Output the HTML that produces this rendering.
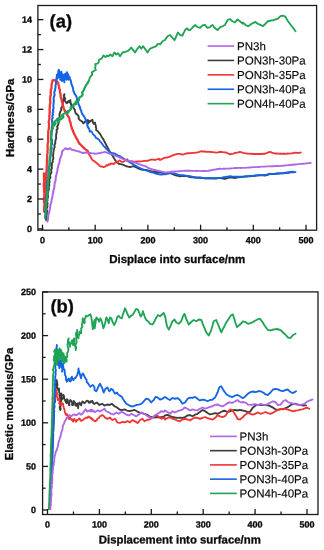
<!DOCTYPE html><html><head><meta charset="utf-8"><title>Nanoindentation curves</title>
<style>html,body{margin:0;padding:0;background:#fff}svg{display:block}text{font-family:"Liberation Sans",Arial,sans-serif;fill:#0a0a0a;stroke:#0a0a0a;stroke-width:0.15px}.b{font-weight:bold;stroke:#0a0a0a;stroke-width:0.3px}</style></head><body>
<svg width="324" height="550" viewBox="0 0 324 550">
<rect width="324" height="550" fill="#fff"/>
<polyline points="46,220 46.24,218.51 46.48,217.02 46.65,215.52 46.91,214.03 46.82,212.52 47.12,211.03 46.35,209.46 46.9,208 47.5,206.53 47.24,205.01 47.7,203.54 47.05,201.97 47.54,200.5 47.45,198.98 47.88,197.5 48.04,196.01 47.62,194.46 47.95,192.97 48.15,191.48 48.71,190.02 48.97,188.47 48.58,186.83 49.42,185.35 48.97,183.7 49.66,182.2 49.38,180.58 49.46,179 50.53,177.55 50.09,175.9 50.3,174.34 51.27,172.88 51.37,171.3 51,169.66 51.87,168.19 51.66,166.57 51.92,165.01 51.77,163.44 52.72,162.03 52.7,160.48 53.2,159.01 53.36,157.48 52.99,155.88 53.28,154.37 53.32,152.83 53.53,151.31 53.67,149.78 54.23,148.32 54.7,146.68 54.38,144.92 55.31,143.36 55.24,141.64 55.58,139.98 56.19,138.37 56.05,136.67 56.09,134.98 56.45,133.33 56.77,131.68 56.54,129.92 57.75,128.42 57.12,126.58 58.14,125.05 58.53,123.4 58.26,121.63 59.14,120.06 59.08,118.31 59.65,116.69 59.45,114.9 59.84,113.24 60.33,111.6 61.22,110.05 61.12,108.26 62.08,106.73 62.67,105.1 62.88,103.38 62.79,101.78 63.08,100.25 63.52,98.75 64.05,97.27 63.67,95.63 64.45,94.19 64.2,95.7 64.31,97.21 65.29,98.62 64.56,100.22 65.37,101.65 66.89,103.27 67.72,101.7 68.65,100.98 69.4,102.46 70.37,100.07 70.4,101.67 70.91,103.3 71.09,104.98 72.42,105.69 73.69,108.24 74.81,109.9 75.16,111.74 75.77,113.42 77.52,114.8 78.68,116.53 78.63,118.5 79.65,120.01 81.02,120.79 82.44,121.89 83.47,123.36 84.8,121.76 86,121.65 87.3,119.98 88.63,120.65" fill="none" stroke="#3c3c3c" stroke-width="1.9" stroke-linejoin="round" stroke-linecap="round"/>
<polyline points="88.63,120.65 87.61,122.16 87.72,123.83 88.75,122.5 90.12,121.37 92.42,119.83 92.91,121.95 93.54,123.82 95.05,122.55 94.97,124.05 95.89,125.44 95.81,126.99 96.35,128.44 96.08,130.03 97.65,131.1 98.78,132.47 99.96,133.79 100.87,135.36 101.78,136.93 102.82,138.43 103.75,140 104.45,141.52 105.25,143 106.04,144.48 106.77,145.99 107.54,147.48 108.46,149.05 109.27,150.69 110.22,152.24 111.24,153.76 112.19,155.31 113.16,156.86 114.15,158.39 115.02,159.99 116.2,161.3 117.44,162.56 118.76,163.74 120.61,164.19 122.49,164.53 124.36,165.42 126.24,166.27 128.11,166.69 130,166.98 131.88,166.67 133.74,166.22 135.63,167.12 137.49,168.03 139.36,168.79 141.26,169.48 142.91,169.77 144.58,169.87 146.25,170.01 147.95,170.3 149.58,170.84 151.26,171.22 152.91,171.54 154.58,171.74 156.24,172.04 157.91,172.2 159.58,172.4 161.25,172.48 163.11,173.16 164.99,173.78 166.68,173.58 168.33,173.21 170.01,173.04 171.63,173.75 173.32,174.38 174.98,175.05 176.64,175.52 178.33,175.84 180,176.25 181.66,176 183.34,176 185.01,175.8 186.67,176.16 188.32,176.63 189.99,177.03 191.66,177.22 193.34,177.25 195,177.53 196.67,177.52 198.33,177.54 200,177.49 201.66,177.78 203.32,178.07 205,178.27 206.67,178.3 208.33,178.14 210,178.21 211.67,178.24 213.33,178.29 215,178.22 216.67,178.21 218.33,178.11 220,177.95 221.67,178.33 223.35,178.6 225.01,178.95 226.64,178.42 228.32,177.96 229.99,177.46 231.67,177.59 233.34,177.72 235,178 236.66,177.64 238.34,177.36 240,177.01 241.66,176.81 243.34,176.85 244.99,176.51 246.66,176.48 248.33,176.32 250,176.24 251.66,175.99 253.34,176 255,175.72 256.66,175.47 258.34,175.44 260,175.2 261.67,175.34 263.34,175.38 265,175.51 266.7,175.11 268.36,174.57 270,173.99 271.67,173.99 273.34,173.87 275,173.73 276.66,173.54 278.34,173.52 280,173.39 281.67,173.36 283.34,173.24 285,173.01 286.75,172.81 288.51,172.79 290.24,172.43 291.99,172.31 293.75,172.26" fill="none" stroke="#3c3c3c" stroke-width="1.85" stroke-linejoin="round" stroke-linecap="round"/>
<polyline points="43.83,173.33 44.01,174.88 44.12,176.42 43.97,177.97 44.13,179.52 44.21,181.07 44.03,182.62 43.75,184.17 43.84,185.72 43.89,187.26 44.24,188.81 44.08,190.36 44.26,191.9 44.34,193.45 44.29,195 44.36,196.51 43.94,198.03 44.02,199.55 44.04,201.06 44.06,202.58 44.44,204.09 44.39,205.61 44.21,207.12 44.16,208.64 44.1,210.16 44.22,211.67 44.19,209.99 44.62,208.34 44.77,206.68 44.78,205 44.7,203.32 44.99,201.67 44.85,199.99 45.45,198.35 45.51,196.68 45.41,195 45.36,193.33 45.82,191.68 45.69,190 45.97,188.45 46.02,186.88 45.89,185.31 45.91,183.75 46.09,182.19 46.06,180.62 45.97,179.05 46.13,177.49 46.51,175.95 46.12,174.36 46.2,172.8 46.62,171.25 46.48,169.68 46.71,168.13 46.74,166.56 46.78,165 47.2,163.5 46.8,161.96 47.01,160.45 46.96,158.93 47.29,157.43 47.15,155.9 47.28,154.39 47.59,152.88 47.41,151.36 47.63,149.85 47.79,148.34 47.53,146.65 47.61,144.98 47.81,143.32 48.23,141.68 48.2,140 48.07,138.33 48.18,136.66 48.14,134.99 48.37,133.33 48.17,131.66 48.56,130 48.83,128.48 48.95,126.94 48.91,125.39 49.14,123.86 48.66,122.29 48.91,120.76 49.41,119.25 49.38,117.7 49.26,116.15 49.67,114.63 49.56,113.08 49.77,111.55 49.61,110 49.59,108.45 49.84,106.92 49.76,105.37 50.01,103.84 50.46,102.33 50.18,100.76 50.09,99.21 50.22,97.67 50.39,96.14 50.86,94.63 50.71,93.07 50.77,91.53 50.88,89.99 51.54,88.38 51.45,86.66 51.58,84.97 51.87,83.31 52.54,80.47 53.98,80.07 55.32,80.38 56.73,81.25 58.28,83.25 58.56,85 59.09,86.63 59.18,88.36 59.89,89.95 59.98,91.67 60.25,93.35 60.68,94.99 60.63,96.72 61.22,98.33 61.58,99.99 61.94,101.77 62.55,103.49 62.69,105.32 63.43,106.77 63.7,108.42 64.36,109.91 65.17,111.33 66.25,112.69 66.97,114.26 67.74,115.79 68.65,116.98 69.4,118.29 69.56,120.33 70.43,122.18 70.8,124.14 70.93,125.71 71.63,127.1 71.89,128.64 72.7,129.99 73.12,131.6 73.92,133.04 74.51,134.57 75.27,136.03 76,137.5 76.94,138.9 77.74,140.37 78.4,141.93 79.28,143.36 80.49,144.67 81.86,145.8 83.05,147.11 84.3,148.36 85.97,149.61 87.64,150.87 88.2,152.29" fill="none" stroke="#F03535" stroke-width="2.3" stroke-linejoin="round" stroke-linecap="round"/>
<polyline points="88.2,152.29 88.73,153.76 89.64,155.34 90.68,156.84 91.45,158.5 92.44,160.04 93.82,160.73 94.92,161.78 96.21,162.56 97.46,163.79 98.85,164.9 99.96,166.29 101.9,166.52 103.74,167.07 105.01,166.62 106.46,165.15 107.53,165.76 108.72,164.11 110,164.81 111.03,163.42 112.4,163.56 113.52,164.16 114.95,162.55 116.12,162.36 117.53,162.93 118.55,161.03 119.78,160.35 121.47,161.84 123.5,161.74 125.04,160.54 127.2,159.21 128.46,160.84 129.73,161.66 131.51,161.22 133.41,161.68 135.46,161.72 137.5,161.54 139.17,161.41 140.83,161.34 142.5,161.18 144.15,160.94 145.84,160.94 147.5,160.75 149.41,160.23 151.26,159.52 153.14,159.64 155,159.98 156.9,159.45 158.75,158.75 160.05,159.95 161.92,159.09 163.77,158.04 165.61,157.63 167.5,157.51 169.15,156.8 170.87,156.25 172.49,155.47 174.14,154.84 175.83,154.33 177.52,153.82 179.18,153.88 180.85,154.14 182.5,154.52 184.19,154.2 185.83,153.67 187.5,153.24 189.17,153.27 190.84,153.17 192.5,152.94 194.18,152.95 195.82,152.58 197.5,152.47 199.41,151.97 201.25,151.24 202.91,151.51 204.59,151.48 206.24,151.81 207.92,151.74 209.59,151.81 211.25,152 212.92,152.12 214.58,152.35 216.24,152.56 217.92,152.4 219.57,152.02 221.25,151.97 222.92,152.18 224.58,152.33 226.25,152.53 228.13,153.5 230.03,154.44 231.64,153.93 233.36,153.6 234.99,152.98 236.69,152.66 238.37,152.31 240,151.77 241.65,152.3 243.32,152.78 245.01,153.22 246.65,153.54 248.33,153.57 249.99,153.81 251.67,153.78 253.33,154.03 255,154.04 256.67,154.03 258.33,153.98 260,153.95 261.67,154 263.33,153.79 265,153.77 266.63,153.06 268.29,152.47 269.98,151.95 271.85,152.71 273.77,153.2 275.3,153.5 276.88,153.46 278.44,153.65 280,153.73 281.56,153.79 283.12,153.63 284.69,153.72 286.25,153.82 287.8,153.53 289.38,153.55 290.93,153.32 292.5,153.22 294.15,152.94 295.82,152.77 297.51,152.82 299.13,152.72 300.75,152.55" fill="none" stroke="#F03535" stroke-width="1.85" stroke-linejoin="round" stroke-linecap="round"/>
<polyline points="45.17,216.67 45.73,215.19 45.83,213.67 45.04,212.09 45.18,210.58 46.03,209.12 46.04,207.59 46.08,206.07 45.82,204.53 46.22,203.04 46.33,201.52 46.37,200 46.1,198.45 46.48,196.94 46.56,195.41 47,193.91 47.38,192.4 47.45,190.87 47.16,189.31 47.17,187.78 47.1,186.24 46.98,184.69 47.09,183.16 47.65,181.67 47.65,180.09 47.86,178.53 48.53,177.02 48.32,175.42 48.51,173.86 48.34,172.27 48.29,170.69 48.75,169.15 48.71,167.57 49.24,166.05 49.88,164.53 49.72,162.94 49.38,161.33 50.25,159.83 50.31,158.26 50.29,156.68 50.76,155.2 50.79,153.67 51,152.16 50.75,150.59 51.56,149.15 51.72,147.63 51.11,146.02 51.88,144.58 52.02,143.06 51.95,141.51 52.19,140 51,140 51.53,138.36 51.21,136.67 51.64,135.02 51.27,133.33 51.9,131.69 52.02,130.03 51.69,128.33 51.86,126.67 52.36,125.18 52.27,123.65 52.14,122.12 51.98,120.59 52.19,119.08 52.67,117.59 52.24,116.04 53.09,114.57 52.56,113.01 53.3,111.54 52.91,109.99 53.58,108.52 53.45,106.99 53.37,105.45 53.5,103.94 53.76,102.43 53.81,100.91 53.66,99.38 53.68,97.85 54.1,96.36 54.64,94.88 54.39,93.33 54.33,91.75 55.02,90.28 55.22,88.72 55.58,87.2 55.41,85.59 55.99,84.1 55.84,82.49 56.4,81 56.37,79.43 56.49,77.88 57.03,76.38 56.84,74.8 57.26,76.67 57.48,78.54 57.58,76.81 57.72,75.11 58.27,73.45 58.18,71.73 58.87,69.9 59.22,71.71 59.14,73.57 59.38,75.42 59.26,77.28 59.22,75.61 59.91,74.02 59.66,72.34 59.82,74.21 60.4,76.03 60.41,77.89 60.33,79.76 60.37,78.03 60.54,76.34 61,74.67 61.01,72.96 61.4,71.68 61.32,73.29 61.9,74.81 62.05,76.35 61.95,77.9 61.87,79.45 61.95,80.99 61.91,79.28 62.17,77.59 62.11,75.88 62.5,74.2 62.52,75.76 62.69,77.3 62.74,78.85 63.06,80.38 63.56,78.75 63.67,77.09 63.74,75.43 64.04,77.12 63.9,78.83 64.23,80.51 64.37,82.21 64.32,80.61 64.67,79.03 64.32,77.39 64.69,75.81 64.71,74.2 65.04,76.36 65.47,78.5 65.84,76.91 65.63,75.21 66.01,73.58 66.18,75.12 66.57,76.64 66.4,78.21 66.7,79.74 66.45,77.88 66.56,76.03 66.76,74.19 66.97,72.34 67.16,73.9 67.39,75.44 67.26,77.01 67.57,78.53 68.24,76.39 68.12,74.19 68.4,76.05 68.68,77.89 68.66,79.75 69.07,78.22 69.4,76.69 69.87,78.54 70.78,80.61 71.2,82.83 71.63,84.7 72.39,86.48 73.09,88.27 73.22,90.22 73.82,92.05 74.77,94.01 75.84,95.38 76.53,96.95 77.15,99.13 77.46,101.33 78.21,102.69 78.55,104.25 79.21,105.67 79.98,107.26 80.29,109.02 81.17,110.57 81.6,112.65 82.68,114.42 83.9,116.23 85.2,118.31 85.66,120 86.09,121.69 87.1,123.21 87.25,124.98 87.66,126.67 88.68,128.21" fill="none" stroke="#1464E6" stroke-width="2.0" stroke-linejoin="round" stroke-linecap="round"/>
<polyline points="88.68,128.21 89.48,129.84 89.69,131.73 91.23,131.19 92.17,132.51 92.79,134 93.97,135.07 95.08,136.19 95.91,137.84 97.59,138.66 99.09,139.66 99.98,141.27 101.07,142.44 102.04,143.72 102.94,145.05 103.97,146.28 105.05,147.46 106.26,148.74 107.52,149.98 108.75,151.25 110.02,152.48 111.66,152.94 113.36,153.23 115.01,153.72 116.68,154.56 118.29,155.51 120.02,156.2 121.63,157.38 123.37,158.35 125,159.51 126.68,160.48 128.34,161.49 129.98,162.53 131.68,163.48 133.38,164.42 135.02,165.46 136.71,166.24 138.3,167.24 139.99,168.02 141.63,168.77 143.32,169.38 145.02,169.95 146.65,170.62 148.31,171.23 149.99,171.78 151.67,172.25 153.34,172.72 155,173.25 156.65,173.74 158.35,174.03 160,174.5 160,174.5 161.67,174.53 163.34,174.41 165,174.3 166.69,173.91 168.32,173.37 169.99,172.97 171.67,173.25 173.34,173.44 175,173.74 176.66,174.21 178.31,174.68 180,175.01 181.66,175.24 183.34,175.24 185,175.48 186.65,175.87 188.35,175.92 190,176.24 191.69,176.57 193.36,176.99 194.99,177.55 196.65,177.78 198.33,177.87 200,177.96 201.67,178.03 203.34,178.1 205,178.27 206.67,178.29 208.33,178.24 210,178.25 211.67,178.24 213.33,178.43 215,178.55 216.67,178.39 218.32,178.07 220,178 221.68,177.72 223.32,177.28 225.01,177.05 226.67,176.74 228.34,176.55 230,176.24 231.65,176.53 233.33,176.65 235,176.76 236.67,176.66 238.33,176.74 240,176.69 241.67,176.65 243.34,176.59 244.99,176.3 246.67,176.25 248.33,176.12 250,175.99 251.67,175.88 253.34,175.77 255,175.55 256.67,175.33 258.34,175.28 260,174.98 261.67,175.06 263.33,175.04 265,175.03 266.69,174.67 268.32,174.1 270,173.76 271.67,173.81 273.33,173.96 275,174.06 276.67,173.82 278.32,173.47 280,173.37 281.67,173.22 283.34,173.05 285,172.77 286.51,172.63 287.98,172.24 289.51,172.26 291.01,172 292.5,171.76 293.99,171.97 295.5,172.05" fill="none" stroke="#1464E6" stroke-width="1.85" stroke-linejoin="round" stroke-linecap="round"/>
<polyline points="45.17,218.33 45.11,216.78 45.46,215.26 45.46,213.71 45.75,212.18 45.9,210.64 45.63,209.07 45.72,207.53 46.43,206.04 46.15,204.47 46.26,202.93 46.92,201.44 46.68,199.87 46.95,198.34 46.93,196.78 47.17,195.24 46.94,193.67 47.4,192.15 47.68,190.61 47.56,189.05 47.83,187.51 47.9,185.96 47.6,184.38 48.2,182.87 48.21,181.32 48.12,179.75 48.05,178.19 48.63,176.68 48.61,175.13 48.91,173.61 49.15,172.08 49.16,170.53 49.44,169 49.2,167.43 49.61,165.92 49.49,164.36 49.96,162.85 50.05,161.31 49.63,159.72 49.79,158.19 50.07,156.66 50.6,155.18 50.34,153.64 50.57,152.13 50.45,150.6 50.7,149.09 50.72,147.57 50.8,146.05 51.04,144.55 51.14,143.03 51.35,141.52 51.36,140 50.81,138.27 51.08,136.69 51.15,135.01 51.22,133.34 51.23,131.66 51.61,130.01 53.05,128.47 52.43,126.73 52.45,125.05 52.98,123.41 53.91,125.69 54.88,124.41 54.44,122.53 55.46,124.03 54.3,121.83 56.52,120.1 57.49,118.66 58.6,120.08 57.57,122.62 59.26,121.56 58.73,119.74 59.87,118.25 60.71,119.45 62.7,117.91 61.69,115.58 63.4,116.81 62.78,114.42 64.98,113.1 66.06,113.08 67.83,111.1 67.91,112.91 69.1,110.84 70.38,109.42 71,108.88 70.52,107.21 72.47,106.39 73.7,105.99 73.24,104.84 74.54,103.62 75.94,104.33 75.71,102.12 76.69,100.58 78.82,100.45 79.42,97.38 81.54,96.26 82.77,94.61 82.16,92.43 83.45,90.8 84.14,89.18 84.87,87.57 86.13,85.07 87.4,83.39 88.26,81.78" fill="none" stroke="#1FA354" stroke-width="2.2" stroke-linejoin="round" stroke-linecap="round"/>
<polyline points="88.26,81.78 89.12,80.22 89.84,77.5 90.92,76.18 92.25,74.58 91.88,72.38 93.83,71.01 95.87,70 95.06,67.93 95.57,66.27 95.17,64.16 97.15,63.68 98.58,62.58 99.11,59.68 101.51,58.76 102.53,57.15 103.44,55.47 105.49,57.02 107.25,55.5 108.49,56.27 110.23,54.48 111.73,55.77 112.48,56.28 113.37,54.31 114.44,52.47 116.23,54.52 118.04,53.31 119.06,54.71 120.01,56.25 120.86,55.02 121.62,53.72 122.48,52.49 124.99,51.97 127.49,51.23 129.51,49.51 131.23,47.48 132.16,48.73 132.97,50.02 134.11,51.16 134.99,52.51 135.89,51.29 136.62,49.97 137.47,48.73 138.57,47.56 139.47,46.23 140.45,47.45 141.26,48.74 142.17,47.53 142.95,46.22 144.04,47.47 145.02,48.73 145.75,50.06 146.68,51.24 147.46,52.53 148.25,51.19 149.13,49.97 150.02,48.76 152.53,47.55 154.37,46.86 156.24,46.21 157.03,44.93 158,43.75 160.02,44.46 161.32,42.93 162.54,41.28 164.98,39.96 165.78,38.71 166.74,37.55 167.52,36.26 170.02,35.04 171.29,36.47 172.54,37.96 174.52,39.98 175.45,38.16 176.22,36.24 177.08,34.36 177.99,32.49 179.02,33.73 180.01,34.99 182.49,35.56 183.03,34.08 183.61,32.69 184.5,31.43 185.05,30.02 187.05,28.3 188.76,29.99 190,30.07 191.34,28.84 192.47,27.47 193.8,26.3 195.04,25.04 196.22,26.04 197.5,27 200.01,27.97 201.22,26.72 202.47,25.47 204.99,24.94 206.23,26.52 207.52,27.98 210.02,27.04 211.16,25.89 212.54,25.05 213.71,26.54 214.95,28.04 216.18,29.09 217.46,30.05 218.77,28.77 219.95,27.45 222.52,26.28 224.98,24.96 225.78,23.31 226.71,21.69 227.5,20 230,18.99 231.16,20.22 232.49,21.26 235.01,22.48 236.19,20.95 237.54,19.53 238.75,20.37 239.98,21.28 241.28,22.47 242.53,23.72 243,22.5 244.18,23.82 245.53,24.97 247.98,26.29 249.32,25.48 250.53,24.54 253.02,23.04 255.47,21.93 256.73,22.91 257.97,23.79 260.53,24.94 263.02,26.22 264.2,24.95 265.5,23.75 266.73,22.48 268,21.25 270.51,20.54 273,20.43 275.48,19.44 277.98,18.7 279.17,17.42 280.45,16.2 283.02,15.57 284.98,16.3 286.11,17.85 287,19.58 288.02,21.24 288.98,22.47 289.91,23.72 290.78,25.03 291.74,26.26 292.72,27.47 293.7,28.69 294.6,29.97 295.55,31.22" fill="none" stroke="#1FA354" stroke-width="1.85" stroke-linejoin="round" stroke-linecap="round"/>
<polyline points="47.33,221.67 47.79,220.2 48.09,218.71 48.17,217.17 48.33,215.64 48.46,214.11 49.13,212.69 49.3,211.17 49.76,209.7 49.81,208.16 50.25,206.69 50.39,204.97 51.06,203.37 51.38,201.7 51.55,199.99 51.98,198.34 52.42,196.69 52.58,194.98 52.98,193.52 53.41,192.07 53.37,190.53 53.96,189.11 54.17,187.61 54.54,186.15 54.52,184.61 54.65,183.11 55.26,181.69 55.63,180.22 55.69,178.7 55.76,177.18 56.1,175.71 56.64,174.27 56.71,172.75 57.38,171.34 57.44,169.82 57.58,168.31 58.18,166.69 58.42,164.98 59.17,163.39 59.58,161.72 59.76,160 60.21,158.34 60.78,156.87 61.34,155.39 61.94,153.92 61.9,152.24 62.63,150.82 63.96,149.62 65.13,148.29 67.66,149.2 70.13,148.21 71.29,149.35 72.67,150.01 74.39,150.19 75.99,150.88 77.69,151.14 79.35,151.58 81,152.33 82.69,152.96 84.32,152.68 86.01,152.54 87.99,152.8 90.01,152.94" fill="none" stroke="#AE66E4" stroke-width="2.0" stroke-linejoin="round" stroke-linecap="round"/>
<polyline points="90.01,152.94 91.66,153.32 93.35,153.39 95,153.73 96.68,153.6 98.34,153.28 100,152.98 101.66,152.64 103.33,152.31 104.99,151.96 106.63,152.7 108.37,153.07 110,153.74 111.65,154.39 113.34,154.89 114.98,155.55 116.69,156.11 118.29,156.94 119.98,157.54 121.65,158.37 123.29,159.25 125,159.99 126.65,160.49 128.32,160.9 130,161.25 131.67,161.66 133.32,162.13 135,162.49 136.7,163.07 138.31,163.89 140.01,164.47 141.67,165.08 143.31,165.73 145.01,166.21 146.72,166.98 148.37,167.84 150,168.76 151.67,169.13 153.35,169.53 155,169.99 156.64,170.52 158.35,170.78 160,171.24 160,171.25 161.66,171.69 163.35,172.03 165,172.5 166.67,172.33 168.32,172.08 170,171.99 171.66,171.79 173.34,171.74 175,171.48 176.67,171.37 178.34,171.28 180.01,171.05 181.67,170.89 183.33,170.86 185,170.73 186.67,170.73 188.33,170.75 190,170.79 191.66,170.94 193.34,170.87 195,170.94 196.67,170.99 198.33,170.89 200,170.94 201.67,171.07 203.33,170.91 205,171.03 206.66,170.8 208.34,170.77 210,170.54 211.65,170.06 213.32,169.76 215.01,169.55 216.67,169.28 218.33,168.98 220.01,168.78 221.67,168.83 223.33,168.75 225,168.75 226.66,168.57 228.33,168.55 230,168.46 231.67,168.36 233.34,168.19 235,167.96 236.67,168.03 238.33,167.9 240,167.95 241.67,167.95 243.33,167.82 245,167.85 246.67,167.7 248.34,167.63 250,167.46 251.67,167.45 253.33,167.15 255,167.15 256.67,167.1 258.34,166.97 260,166.8 261.67,166.66 263.34,166.63 265,166.57 266.66,166.33 268.34,166.44 270,166.3 271.67,166.19 273.34,166.23 275,166.11 276.67,166.03 278.33,166.09 280,165.95 281.67,165.91 283.34,165.78 284.99,165.45 286.68,165.44 288.32,165.07 290,165.04 291.66,164.78 293.34,164.78 295,164.48 296.68,164.43 298.32,164.05 300,163.95 301.54,163.93 303.07,163.75 304.61,163.58 306.13,163.32 307.67,163.21 309.21,163.11 310.75,162.95" fill="none" stroke="#AE66E4" stroke-width="1.85" stroke-linejoin="round" stroke-linecap="round"/>
<rect x="37.9" y="5.5" width="278.70000000000005" height="224.7" fill="none" stroke="#1a1a1a" stroke-width="1.3"/>
<line x1="42.5" y1="230.2" x2="42.5" y2="224.7" stroke="#1a1a1a" stroke-width="1.3"/>
<text class="b" x="42.5" y="243.3" transform="rotate(0.03 42.5 243.3)" font-size="9" text-anchor="middle">0</text>
<line x1="95.2" y1="230.2" x2="95.2" y2="224.7" stroke="#1a1a1a" stroke-width="1.3"/>
<text class="b" x="95.2" y="243.3" transform="rotate(0.03 95.2 243.3)" font-size="9" text-anchor="middle">100</text>
<line x1="147.9" y1="230.2" x2="147.9" y2="224.7" stroke="#1a1a1a" stroke-width="1.3"/>
<text class="b" x="147.9" y="243.3" transform="rotate(0.03 147.9 243.3)" font-size="9" text-anchor="middle">200</text>
<line x1="200.6" y1="230.2" x2="200.6" y2="224.7" stroke="#1a1a1a" stroke-width="1.3"/>
<text class="b" x="200.6" y="243.3" transform="rotate(0.03 200.6 243.3)" font-size="9" text-anchor="middle">300</text>
<line x1="253.3" y1="230.2" x2="253.3" y2="224.7" stroke="#1a1a1a" stroke-width="1.3"/>
<text class="b" x="253.3" y="243.3" transform="rotate(0.03 253.3 243.3)" font-size="9" text-anchor="middle">400</text>
<line x1="306.0" y1="230.2" x2="306.0" y2="224.7" stroke="#1a1a1a" stroke-width="1.3"/>
<text class="b" x="306.0" y="243.3" transform="rotate(0.03 306.0 243.3)" font-size="9" text-anchor="middle">500</text>
<line x1="68.85" y1="230.2" x2="68.85" y2="227.2" stroke="#1a1a1a" stroke-width="1.3"/>
<line x1="121.55" y1="230.2" x2="121.55" y2="227.2" stroke="#1a1a1a" stroke-width="1.3"/>
<line x1="174.25" y1="230.2" x2="174.25" y2="227.2" stroke="#1a1a1a" stroke-width="1.3"/>
<line x1="226.95" y1="230.2" x2="226.95" y2="227.2" stroke="#1a1a1a" stroke-width="1.3"/>
<line x1="279.65" y1="230.2" x2="279.65" y2="227.2" stroke="#1a1a1a" stroke-width="1.3"/>
<line x1="37.9" y1="228.9" x2="43.4" y2="228.9" stroke="#1a1a1a" stroke-width="1.3"/>
<text class="b" x="32" y="231.95" transform="rotate(0.03 32 231.95)" font-size="9" text-anchor="end">0</text>
<line x1="37.9" y1="199.01" x2="43.4" y2="199.01" stroke="#1a1a1a" stroke-width="1.3"/>
<text class="b" x="32" y="202.06" transform="rotate(0.03 32 202.06)" font-size="9" text-anchor="end">2</text>
<line x1="37.9" y1="169.12" x2="43.4" y2="169.12" stroke="#1a1a1a" stroke-width="1.3"/>
<text class="b" x="32" y="172.17" transform="rotate(0.03 32 172.17)" font-size="9" text-anchor="end">4</text>
<line x1="37.9" y1="139.23" x2="43.4" y2="139.23" stroke="#1a1a1a" stroke-width="1.3"/>
<text class="b" x="32" y="142.28" transform="rotate(0.03 32 142.28)" font-size="9" text-anchor="end">6</text>
<line x1="37.9" y1="109.34" x2="43.4" y2="109.34" stroke="#1a1a1a" stroke-width="1.3"/>
<text class="b" x="32" y="112.39" transform="rotate(0.03 32 112.39)" font-size="9" text-anchor="end">8</text>
<line x1="37.9" y1="79.45" x2="43.4" y2="79.45" stroke="#1a1a1a" stroke-width="1.3"/>
<text class="b" x="32" y="82.50" transform="rotate(0.03 32 82.50)" font-size="9" text-anchor="end">10</text>
<line x1="37.9" y1="49.56" x2="43.4" y2="49.56" stroke="#1a1a1a" stroke-width="1.3"/>
<text class="b" x="32" y="52.61" transform="rotate(0.03 32 52.61)" font-size="9" text-anchor="end">12</text>
<line x1="37.9" y1="19.67" x2="43.4" y2="19.67" stroke="#1a1a1a" stroke-width="1.3"/>
<text class="b" x="32" y="22.72" transform="rotate(0.03 32 22.72)" font-size="9" text-anchor="end">14</text>
<line x1="37.9" y1="213.96" x2="40.9" y2="213.96" stroke="#1a1a1a" stroke-width="1.3"/>
<line x1="37.9" y1="184.06" x2="40.9" y2="184.06" stroke="#1a1a1a" stroke-width="1.3"/>
<line x1="37.9" y1="154.18" x2="40.9" y2="154.18" stroke="#1a1a1a" stroke-width="1.3"/>
<line x1="37.9" y1="124.28" x2="40.9" y2="124.28" stroke="#1a1a1a" stroke-width="1.3"/>
<line x1="37.9" y1="94.4" x2="40.9" y2="94.4" stroke="#1a1a1a" stroke-width="1.3"/>
<line x1="37.9" y1="64.5" x2="40.9" y2="64.5" stroke="#1a1a1a" stroke-width="1.3"/>
<line x1="37.9" y1="34.62" x2="40.9" y2="34.62" stroke="#1a1a1a" stroke-width="1.3"/>
<text class="b" x="49.6" y="27.5" transform="rotate(0.03 49.6 27.5)" font-size="18.4">(a)</text>
<text class="b" x="177.2" y="263" transform="rotate(0.03 177.2 263)" font-size="11.5" text-anchor="middle">Displace into surface/nm</text>
<text class="b" transform="translate(13.7,117.8) rotate(-90)" font-size="11.5" text-anchor="middle">Hardness/GPa</text>
<line x1="207.6" y1="46.05" x2="234.1" y2="46.05" stroke="#AE66E4" stroke-width="1.6"/>
<text x="237.0" y="50.15" transform="rotate(0.03 237 50.15)" font-size="11.55">PN3h</text>
<line x1="207.6" y1="60.45" x2="234.1" y2="60.45" stroke="#3c3c3c" stroke-width="1.6"/>
<text x="237.0" y="64.55" transform="rotate(0.03 237 64.55)" font-size="11.55">PON3h-30Pa</text>
<line x1="207.6" y1="74.85" x2="234.1" y2="74.85" stroke="#F03535" stroke-width="1.6"/>
<text x="237.0" y="78.95" transform="rotate(0.03 237 78.95)" font-size="11.55">PON3h-35Pa</text>
<line x1="207.6" y1="89.25" x2="234.1" y2="89.25" stroke="#1464E6" stroke-width="1.6"/>
<text x="237.0" y="93.35" transform="rotate(0.03 237 93.35)" font-size="11.55">PON3h-40Pa</text>
<line x1="207.6" y1="103.65" x2="234.1" y2="103.65" stroke="#1FA354" stroke-width="1.6"/>
<text x="237.0" y="107.75" transform="rotate(0.03 237 107.75)" font-size="11.55">PON4h-40Pa</text>
<polyline points="49.83,509.17 49.9,507.59 49.96,506 49.97,504.41 50.28,502.84 50.1,501.24 50.33,499.67 50.54,498.09 50.38,496.49 50.6,494.91 50.69,493.33 50.61,491.78 50.79,490.25 50.96,488.72 50.96,487.18 51.12,485.64 51.03,484.09 51.13,482.56 51.17,481.02 51.36,479.48 51.57,477.95 51.54,476.41 51.68,474.87 51.65,473.33 51.8,471.82 51.67,470.3 51.79,468.78 51.96,467.27 52.04,465.76 52.01,464.24 51.97,462.72 52.08,461.21 52.13,459.69 52.21,458.18 52.43,456.67 52.31,455.15 52.57,453.64 52.63,452.12 52.44,450.6 52.6,449.09 52.7,447.57 52.62,446.05 52.8,444.54 53,443.03 52.82,441.51 53.01,440 52.94,438.47 53.14,436.95 53.29,435.42 53.13,433.89 53.13,432.36 53.21,430.83 53.4,429.31 53.3,427.77 53.38,426.25 53.56,424.72 53.74,423.2 53.66,421.67 53.71,420.12 53.85,418.58 53.76,417.02 53.98,415.48 53.93,413.93 54.13,412.38 54.31,410.84 53.62,409.26 54.39,407.74 54.53,406.2 53.97,404.62 54.2,403.08 55.29,401.58 55.02,400.02 54.24,398.46 55.16,397.02 55.6,395.54 54.7,393.98 55.33,392.51 54.63,390.96 55.18,389.49 55.71,388.02 55.7,386.51 55.86,385.01 55.32,383.26 55.9,381.64 56.58,380.03 56.95,381.69 57.23,383.33 57.47,384.99 56.82,386.74 57.56,388.34 58.17,389.97 58.86,388.42 59.07,389.97 59.09,391.66 59.57,393.29 59.41,394.99 59.62,396.66 60.18,398.3 59.53,400.01 60.37,401.63 59.52,403.36 60.68,404.96 59.73,406.69 59.8,408.36 60.33,410 60.7,408.5 60.13,406.95 60.89,405.47 60.53,403.93 60.34,402.4 61.44,400.94 60.73,399.38 60.76,397.87 61.52,396.39 60.91,394.84 61.29,393.34 61.9,395.21 61.25,397.29 62.17,399.15 62.61,398.11 63.9,396.83 63.45,394.94 64.22,396.81 64.11,398.45 64.91,400.03 65.67,401.61 66.44,403.19 66.18,401.17 66.92,399.15 67.77,400.06 67.47,401.77 68.59,403.3 68.92,404.96 69.5,405.04 69.28,403.25 69.48,401.57 70.37,400.01 71.07,400.93 72.18,402.8 72.03,404.99 72.83,405.14 73.61,402.99 73.59,400.81 74.31,401.86 75.36,403.22 75.18,405.04 76.04,405.97 77.25,403.41 77.28,405 78.11,406.57 78.14,408.28 78.29,406.26 78.45,404.12 79.58,402.54 80.61,404.91 81.17,405.2 81.82,402.44 82.59,401.43 84.19,403.2 85.31,402.47 86.7,400.86 87.83,400.75 89.2,402.89 90.33,402.49 91.88,401.57 92.82,401.69 89.96,401.69 92.41,400.93 92.96,402.93 94.29,403.92 97.01,402.53 98.23,403.77 99.48,405.02 102.04,403.82 103.35,404.48 104.48,405.52 107,404.51 109.51,404.96 112.02,403.79 113.19,405.06 114.56,406.19 116.98,407.54 118.26,408.49 119.5,409.5 121.99,410.03 124.48,409.41 126.99,410.52 129.51,411.23 132.02,410.57 134.49,409.95 136.97,411.31 139.48,412.54 142,413.02 144.48,413.82 147.04,414.92 149.49,416.27 151.99,417.02 154.49,417.53 157,416.98 159.52,417.42 161.99,416.94 164.51,416.27 164.95,415.46 167.48,414.91 170.01,416.22 172.5,416.99 175,417.51 177.52,417.91 180.01,417.55 182.51,417.97 185.02,417.05 187.45,415.42 190.02,415.09 192.49,416.27 193.86,415.53 195.06,414.58 197.52,413.81 198.66,412.75 199.98,411.98 201.18,410.92 202.53,410.04 205.03,411.19 206.31,412.03 207.54,412.94 210.04,414.43 212.53,413.83 215.03,413.09 217.51,413.73 220.02,412.54 222.5,411.24 225,410.75 227.51,411.98 230.01,411.28 232.48,410.45 234.99,409.95 237.5,410.5 239.99,409.94 242.5,410.49 243,410.59 245.53,411.16 248.04,412.43 250.53,411.3 251.19,409.9 252.08,408.69 253.06,407.54 254.28,406.53 255.47,405.46 257.98,404.91 259.88,404.91 261.75,404.96 263.62,405.12 265.5,405.1 267.36,405.36 269.24,405.58 271.04,406.65 272.96,407.57 274.16,408.47 275.4,409.32 276.79,409.93 278.62,409.68 280.49,409.45 282.38,409.17 284.25,408.75 286.1,407.82 288.03,407.06 289.23,406.13 290.44,405.24 291.73,404.46 293.62,404.11 295.5,403.77 297.37,404.4 299.25,404.99 301.14,405.13 303,405.48 304.5,405.43 306,405.43" fill="none" stroke="#3c3c3c" stroke-width="1.85" stroke-linejoin="round" stroke-linecap="round"/>
<polyline points="49.67,509.17 49.76,507.59 49.78,506 49.89,504.42 49.85,502.83 50.09,501.25 50.16,499.67 50.18,498.08 50.1,496.49 50.27,494.91 50.3,493.33 50.31,491.79 50.57,490.26 50.63,488.72 50.4,487.17 50.7,485.64 50.67,484.1 50.66,482.56 50.68,481.02 50.85,479.49 50.83,477.94 50.95,476.41 51,474.87 50.94,473.33 51.13,471.82 51.24,470.3 51.28,468.79 51.22,467.27 51.09,465.75 51.12,464.24 51.21,462.72 51.5,461.21 51.35,459.69 51.41,458.18 51.62,456.67 51.49,455.15 51.61,453.64 51.62,452.12 51.55,450.6 51.75,449.09 51.88,447.58 51.72,446.06 51.78,444.54 51.88,443.03 51.82,441.51 52,440 52.15,438.48 52.16,436.95 52.18,435.42 52.33,433.89 52.17,432.36 52.36,430.84 52.35,429.31 52.48,427.78 52.39,426.25 52.89,424.74 52.13,423.18 52.47,421.66 53.13,420.18 53.39,418.67 52.86,417.12 52.93,415.6 52.82,414.07 52.95,412.56 53.45,411.07 53.01,409.52 53.03,408 53.53,406.51 53.47,404.99 54.01,403.35 54.39,401.71 54.5,400.04 54.31,398.33 54.41,396.66 54.84,394.98 55.04,393.26 56,391.73 56.07,389.98 56.59,391.64 57.09,393.27 56.85,394.99 56.95,396.68 57.54,398.3 57.61,400.05 58.76,398.38 59.39,399.93 59.49,401.67 59.44,403.45 60.32,405 61.17,405.06 61.77,403.21 62.83,403.32 63.3,405.41 63.73,407.49 64.55,409.98 64.82,411.69 65.31,413.34 66.18,415 66.86,414.03 67.86,415.81 68.4,418.42 69.54,419.13 70.08,417.38 71.45,419.9 72.02,419.19 73.09,421.59 73.45,419.89 74.33,419 75.35,420.82 75.96,421.88 76.99,420 77.83,419.98 78.64,419.14 79.5,418.33 80.36,419.99 81.07,420.93 82.47,420.19 83.73,419.27 84.98,418.29 86.22,417.57 87.33,417.75 88.56,416.49 90.11,417.89 91.15,418.4 92.47,418.78 90.04,417.42 91.18,418.58 92.38,419.65 93.76,420.35 94.89,421.4 96.64,420.39 97.47,418.72 99.05,417.8 100.03,416.28 102.53,415.07 103.88,416.12 104.94,417.56 107.48,418.8 110.04,417.58 111.11,418.89 112.53,419.97 115.02,418.78 115.95,419.92 116.64,421.27 117.43,422.55 120.01,422.94 122.49,421.97 125.02,422.42 127.47,421.2 130.03,422.45 131.14,421.14 132.57,420.07 134.97,421.32 136.26,422.11 137.47,423.04 138.81,421.55 140,420 142.49,418.74 143.45,420.04 144.49,421.26 146.98,419.96 149.49,419.47 152.01,418.02 153.28,417.17 154.47,416.2 157.01,415.02 158.14,416.36 159.45,417.55 161.99,418.78 164.46,417.42 165.01,419.5 167.46,417.93 169.98,417.41 172.52,418.71 175,419.49 177.48,420.55 179.99,421.27 181.2,420.3 182.52,419.53 185,418.75 187.5,419.5 190.02,420.46 191.24,419.61 192.48,418.72 195.02,417.54 197.5,418 200,418.74 202.5,418 205,417 207.49,418.04 209.99,418.79 212.48,419.56 214.99,417.98 216.34,416.58 217.57,415.06 219.96,416.34 222.49,417.04 224.98,416.17 225.95,415.08 226.78,413.82 227.42,412.45 228.7,410.96 229.97,409.48 232.49,410.05 233.29,411.52 234.24,412.96 235.05,414.47 235.95,415.85 236.81,417.25 237.45,418.78 239.97,419.58 241.18,418.41 242.53,417.54 243.06,417.06 244.16,415.66 245.51,414.51 247.99,412.99 250.47,413.84 252.98,414.57 255.47,413.66 257.97,412.45 260.47,413.81 263,413.01 265.5,412 267.98,413.06 270.48,413.8 273.04,412.58 275.48,411.22 277.96,409.92 280.52,408.78 283.03,409.41 285.5,408.76 287.98,409.57 290.51,410.48 292.99,411.27 294.85,410.75 296.74,410.43 298.64,410.04 300.52,409.57 302.41,409.32 304.23,408.66 306.79,407.58 309.25,408.75" fill="none" stroke="#F03535" stroke-width="1.85" stroke-linejoin="round" stroke-linecap="round"/>
<polyline points="49.5,509.17 49.5,507.58 49.8,506.01 49.64,504.41 49.89,502.84 49.79,501.24 49.92,499.66 50.23,498.09 50.08,496.49 50.29,494.92 50.32,493.33 50.44,491.66 50.57,490 50.6,488.33 50.91,486.67 50.81,484.99 50.97,483.33 51.1,481.66 51.17,480.1 51.29,478.54 51.51,476.99 51.42,475.42 51.42,473.85 51.53,472.29 51.82,470.74 51.62,469.16 51.86,467.61 51.86,466.04 52.02,464.48 51.99,462.92 52.17,461.36 52.18,459.79 52.3,458.23 52.39,456.67 52.4,455.16 52.31,453.64 52.34,452.12 52.65,450.61 52.55,449.09 52.51,447.57 52.78,446.07 52.72,444.55 52.81,443.03 52.9,441.52 52.8,440 52.86,438.47 53.08,436.95 52.93,435.41 53.19,433.89 53.06,432.36 53.31,430.84 53.38,429.31 53.52,427.79 53.56,426.26 53.53,424.73 53.51,423.19 53.62,421.67 53.74,420.11 53.8,418.55 53.73,416.98 54.04,415.42 53.98,413.86 54.11,412.3 54.02,410.73 54.09,409.17 54.09,407.6 54.25,406.04 54.29,404.48 54.4,402.92 54.45,401.36 54.65,399.8 54.72,398.24 54.62,396.67 54.7,395.15 54.69,393.64 54.9,392.13 55.05,390.61 54.88,389.09 55.11,387.58 55.03,386.06 54.47,384.52 55.58,383.05 55.05,381.51 55.1,379.99 55.35,378.33 55.18,376.64 55.61,375 55.64,373.48 55.65,371.97 55.93,370.46 55.56,368.93 55.33,367.41 55.36,365.89 55.44,364.38 56.06,362.88 55.88,361.36 56.56,359.86 56.17,358.33 56.52,356.67 56.97,355.02 55.75,353.31 55.74,351.64 55.98,349.98 56.39,348.33 56.71,346.67 56.84,345.01 56.96,346.66 56.19,348.37 57.62,349.97 56.53,351.69 57.49,353.31 56.91,355.01 56.69,353.27 58.15,351.73 57.85,350.02 57.03,351.52 57.66,353 58.27,354.48 57.21,356.02 58,357.5 58.55,358.98 57.87,360.5 58.07,362 58.16,363.5 58.41,364.99 57.77,363.29 58.53,361.67 58.48,359.99 58.41,358.31 58.86,359.99 58.57,361.68 58.7,363.35 59.15,364.99 59.37,366.65 59.43,368.32 59.12,366.63 59.24,364.96 59.76,363.33 59.73,361.64 59.91,363.38 60.16,365.04 60.59,366.68 60.17,364.94 60.81,363.32 61.07,361.66 61.05,359.97 60.77,361.7 61.16,363.35 61.61,365 61.43,366.69 62.23,368.31 62.28,369.98 61.98,371.67 62.51,370.04 62.54,368.35 61.81,366.6 62.82,365.01 63.11,363.36 62.92,365.08 63.38,366.74 63.28,368.45 64.6,369.94 64.64,371.65 64.85,373.35 65.01,375.08 65.93,376.62 65.87,378.41 66.11,380.12 66.99,381.67 67.91,379.2 68.9,378.56 69.31,380.89 70.43,381.57 71.22,380.12 70.96,378.28 71.92,376.63 72.53,379.27 73.5,380.17 74.38,378.27 75.33,378.18 76.24,376.71 77.21,375.11 77.59,373.38 78.26,371.78 78.31,370.06 78.55,368.37 78.58,370.03 79.3,371.62 79.55,373.32 80.07,374.99 80.57,376.68 80.95,378.4 81.42,376.56 81.7,374.81 82.98,373.38 84.15,375.76 85.38,378.3 86.64,379.76 86.58,381.87 87.97,383.26 89.13,384.96 90.29,386.7 91.58,385.84 92.81,384.97 94.46,387.04 94.53,388.5 94.52,390 96.21,391.31 97.2,389.41 98.03,387.52 98.93,385.59 100.04,383.77 100.97,385.64 101.96,387.52 102.62,389.15 103.09,390.86 103.71,392.51 104.59,390.61 105.52,388.76 107.52,387.54 108.37,389.44 109.44,391.28 110.45,390.05 111.21,388.72 112.99,390.01 113.95,391.9 115.05,393.72 117,392.5 117.78,393.81 118.7,395.03 121.22,396.31 122.19,397.43 122.89,398.77 123.7,400.03 124.55,401.28 125.46,402.47 126.31,403.71 128.72,405.06 131.23,406.3 133.75,406.27 136.24,404.98 138.76,404.55 141.26,403.8 142.55,402.55 143.76,401.26 144.96,399.96 146.23,398.73 148.76,399.48 150.04,400.97 151.25,402.5 152.42,401.17 153.77,400.02 154.59,398.48 155.46,396.97 157.51,397.46 158.77,398.47 160.01,399.49 162.51,398.79 163.68,397.78 164.98,396.97 166.29,397.82 167.53,398.71 169.98,400.03 171.18,398.91 172.46,397.95 175,398.76 177.51,398.03 178.69,399.08 179.99,400.01 180.88,401.22 181.57,402.56 182.47,403.77 185,402.5 185.85,401.26 186.78,400.07 187.56,398.79 190.03,397.56 192.51,397.95 194.99,396.98 196.27,397.85 197.53,398.71 198.7,399.69 200.04,400.45 202.52,399.55 205,400.01 207.49,401.27 209.99,399.99 212.51,399.56 213.76,398.52 215.04,397.55 215.95,395.89 216.72,394.19 217.56,392.53 218.16,390.67 218.8,388.82 219.55,387.02 221.25,386.25 222.18,387.85 222.98,389.51 224.01,391 225.05,392.47 226.18,393.82 227.5,395 229.97,396.31 232.5,397 235.03,395.56 237.49,394.97 240.02,396.21 241.25,397.13 242.48,398.03 243,398.05 244.28,397.16 245.47,396.2 246.73,394.98 247.95,393.7 249.23,392.84 250.54,392.05 253,391.48 255.49,392.03 258.01,391.27 260.5,391.2 262.99,392.53 264.33,393.4 265.53,394.46 268,395.01 269.17,393.67 270.55,392.55 271.73,390.99 273.02,389.51 275.52,388.82 278.02,389.44 280.47,390.57 283.02,391.18 285.51,390.01 288,389.52 289.15,390.85 290.52,391.98 292.98,393.06 294.52,392.16 296,391.25" fill="none" stroke="#1464E6" stroke-width="1.85" stroke-linejoin="round" stroke-linecap="round"/>
<polyline points="49,509.17 49,507.57 49.01,505.97 49.21,504.38 49.1,502.78 49.29,501.18 49.29,499.58 49.26,497.98 49.45,496.39 49.36,494.79 49.54,493.19 49.49,491.59 49.61,490 49.71,488.48 49.89,486.97 49.74,485.45 49.83,483.93 50.01,482.42 50.16,480.91 50.11,479.39 50.12,477.88 50.35,476.37 50.13,474.84 50.38,473.33 50.31,471.81 50.3,470.3 50.33,468.78 50.43,467.27 50.62,465.76 50.46,464.24 50.62,462.73 50.68,461.21 50.64,459.69 50.73,458.18 50.62,456.66 50.66,455.15 50.74,453.63 50.92,452.12 50.88,450.6 50.89,449.09 51,447.58 51,446.06 51,444.54 51.18,443.03 51.19,441.52 51.13,440 51.28,438.33 51.34,436.67 51.53,435.01 51.57,433.34 51.52,431.66 51.74,430 51.6,428.43 51.73,426.87 51.87,425.31 51.73,423.75 51.87,422.19 51.78,420.62 52.01,419.06 52.08,417.5 52.06,415.94 52.2,414.38 52.07,412.81 52.22,411.25 52.23,409.69 52.27,408.13 52.28,406.56 52.38,405 52.51,403.44 52.41,401.87 52.5,400.31 52.37,398.75 52.6,397.19 52.63,395.63 52.77,394.07 52.76,392.5 52.64,390.94 52.71,389.37 52.84,387.81 52.69,386.25 52.86,384.69 52.82,383.12 52.84,381.56 52.93,380 53.16,378.34 53.06,376.66 53.18,375 53.3,373.33 54.01,371.7 52.83,369.97 53.51,368.33 53.71,366.67 54.38,365.04 54.37,363.36 54.53,361.7 53.69,359.98 54.01,358.33 54.01,356.65 54.64,355.02 55.28,353.43 54.22,351.59 54.74,349.97 55.52,351.64 55.62,353.31 55.31,355 55.24,356.68 55.86,358.31 56.37,359.96 55.73,361.67 55.57,359.99 56,358.34 56.72,356.72 56.41,355.02 56.24,353.34 56.42,351.68 56.13,353.35 57.21,354.97 55.94,356.7 56.22,358.36 56.15,360.03 56.36,361.69 57.09,363.33 57.08,365 56.45,363.46 57.38,362.01 56.55,360.46 56.64,358.96 56.95,357.47 56.96,355.97 57.33,354.49 56.95,352.96 56.95,351.46 57.55,349.98 58.61,351.61 58.33,353.32 59.01,354.94 57.79,356.72 58.35,358.35 58.95,359.98 58.39,358.3 58.66,356.65 58.81,354.98 58.54,353.29 59.82,351.7 60.17,350.05 59.47,348.33 59.66,349.99 60.44,351.61 60.55,353.28 60.3,354.98 60.57,356.63 60.07,358.35 59.99,356.6 59.97,354.91 61.65,353.42 61.17,351.67 61.05,349.97 61.4,351.67 62.37,353.27 61.71,355.01 61.14,356.73 61.47,358.39 61.87,360.03 62.52,361.65 62.32,359.98 62.2,358.27 63.36,356.72 63.18,355 63.55,353.36 63.77,354.97 64.1,356.62 63.33,358.38 63.22,360.07 63.6,361.72 64.09,363.35 65.08,361.74 65.21,360.06 64.65,358.27 65.34,356.67 65.89,358.29 66.74,359.86 66.7,361.6 66.15,359.97 66.28,358.3 67.14,356.7 67.36,355.04 67.08,353.33 68.03,351.74 68.28,350.08 68.39,348.41 67.72,346.66 67.55,344.96 67.73,343.29 67.85,341.62 68.03,339.95 68.77,338.34 68.31,340.1 68.69,341.75 69.52,343.33 69.68,345.06 70.1,346.73 69.95,344.89 71.14,343.38 71.49,341.72 72.2,340.1 71.88,341.73 72.59,343.33 73.08,344.96 73.5,343.39 72.98,341.63 73.94,340.06 74.04,338.38 74.11,339.97 74.38,341.64 74.15,343.39 74.35,345.04 75.44,346.6 75.71,348.26 75.61,349.97 76.1,348.38 76.06,346.7 75.13,344.96 76.33,343.37 76.7,341.72 76.3,340.02 76.05,338.32 76.41,336.67 75.91,334.94 75.89,333.25 77.58,331.74 77.12,330.01 77.23,331.67 76.87,333.45 77.88,334.99 77.67,336.81 78.42,338.39 78.55,336.57 78.95,334.92 79.34,333.27 79.8,331.63 81.11,333.37 80.95,331.63 81.37,329.99 81.08,328.27 82.49,326.73 81.88,324.99 82.14,323.32 82.55,321.68 83.26,320.08 82.77,318.32 82.6,320.16 83.67,321.67 84.48,323.34 84.81,321.67 84.29,319.87 85.28,318.32 85.93,315.75 87.56,316.35 88.86,315.15 90.32,314.14 91.17,316.67 91.4,318.34 91.71,320.01 92.02,321.67 92.16,323.17 92.32,324.67 92.44,326.18 92.74,327.66 92.82,329.17 93.06,327.22 93.35,325.27 93.7,323.33 94.09,321.67 94.51,320 94.48,321.67 94.49,323.33 94.61,325 94.61,326.66 94.67,328.33 94.91,326.78 95.18,325.24 95.37,323.69 95.63,322.14 95.85,320.59 96.18,319.06 96.35,317.5 97.97,319.2 99.13,321.69 99.7,319.98 100.34,318.33 101.63,320.85 101.94,322.34 102.4,323.81 102.74,325.31 103.01,326.83 103.37,328.32 103.95,326.65 104.63,324.98 105.04,323.51 105.39,322.01 105.74,320.52 105.93,318.99 106.35,317.5 107.49,319.18 108.15,321.23 108.63,323.34 109.2,321.41 109.5,319.43 110.04,317.51 111.34,318.32 111.92,320 112.45,321.69 113.28,323.36 114.2,324.98 114.99,323.33 115.83,321.67 116.36,319.99 116.89,318.32 117.48,316.66 118.68,315.85 120.04,317.47 121.67,318.33 122.21,316.66 122.69,314.97 123.31,313.32 123.91,311.67 124.45,310 124.96,308.32 126.29,310.85 126.86,312.52 127.46,314.19 128.41,315.8 129.19,317.49 130.8,315.8 132.51,315.02 133.3,313.72 134.14,312.48 134.99,310.83 135.87,309.19 137.5,309.2 138.38,310.81 139.2,312.48 139.92,314.62 140.82,316.67 141.7,315.02 142.46,313.31 142.96,311.24 143.46,312.93 144.01,314.58 144.54,316.24 145.3,318.16 146.24,320.01 147.98,321.27 149.07,322.45 149.97,323.77 152.51,324.46 153.56,322.91 154.5,321.25 155.35,319.36 156.25,317.5 157.19,316.3 157.98,314.99 160.02,316.22 162,314.5 163.73,312.98 164.45,314.6 165.03,316.24 165.42,317.9 165.73,319.57 166.04,321.24 166.37,322.91 166.62,324.59 167.02,326.25 167.87,327.88 168.78,329.48 169.6,327.86 170.46,326.23 171.12,324.56 171.74,322.88 172.52,321.26 174.5,319.5 175.43,320.97 176.25,322.5 178.73,323.79 179.94,322.44 181.27,321.27 181.82,319.58 182.42,317.92 183.03,316.26 184.49,313.74 185.08,315.42 185.63,317.1 186.2,318.77 186.9,320.17 187.44,321.65 188.09,323.08 188.74,324.51 189.99,323.24 191.24,321.99 192.44,320.93 193.73,319.97 196.27,321.21 197.53,320.41 198.74,319.48 201.26,319.97 201.95,321.53 202.44,323.15 203.06,324.72 203.73,326.26 204.42,327.8 205.05,329.36 205.66,330.92 206.25,332.5 207.55,333.96 208.75,335.5 209.33,334.11 210.08,332.79 210.71,331.41 211.25,330 211.62,328.53 212.17,327.11 212.46,325.61 212.89,324.16 213.24,322.68 213.74,321.25 216.25,320 216.87,321.56 217.56,323.1 218.12,324.69 218.8,326.23 219.42,327.79 220.08,329.34 220.64,330.93 221.29,332.48 222,330.79 222.88,329.15 223.73,327.49 224.6,325.84 225.42,324.17 226.27,322.51 227.11,321.27 227.95,320.02 228.78,318.77 229.56,317.49 230.39,316.23 231.29,315.03 232.99,314.47 233.46,316.2 233.97,317.88 234.59,319.54 234.97,321.26 235.43,322.71 235.98,324.13 236.46,325.58 236.97,327.01 238.2,325.94 239.5,325 240.75,323.75 242.02,322.52 243.02,321.27 245.49,322.03 246.74,322.89 247.98,323.78 250.51,323.02 253.01,322.02 255.49,320.48 257.98,319.21 259.99,318.71 261.27,320.36 262.53,321.98 263.28,323.45 264.16,324.84 264.99,326.26 265.98,327.52 266.97,328.77 268,330 270.51,330.45 273.01,329.53 274.88,329.3 276.75,329 278.62,329.51 280.5,330.02 281.81,331.19 282.97,332.53 284.27,333.73 285.56,334.94 286.78,336.22 287.98,337.52 290.51,337.97 291.79,336.53 293.04,335.03 295.5,333.75" fill="none" stroke="#1FA354" stroke-width="1.85" stroke-linejoin="round" stroke-linecap="round"/>
<polyline points="50.33,509.17 50.42,507.62 50.61,506.08 50.99,504.55 50.79,502.97 50.94,501.43 51.11,499.88 51.06,498.32 51.25,496.82 51.41,495.31 51.6,493.8 51.19,492.26 51.41,490.75 51.34,489.23 51.91,487.74 51.91,486.22 51.53,484.68 52.26,483.2 52.16,481.68 52.25,480.01 52.36,478.34 52.18,476.65 52.21,474.98 52.71,473.34 52.68,471.66 52.82,469.98 53.07,468.31 53.13,466.63 53.66,465 53.79,463.33 54.24,461.69 54.18,460 54.43,458.35 54.5,456.67 55.11,455.03 55.47,453.33 55.85,451.62 56.83,450.1 57.17,448.38 57.73,446.73 58.14,445.04 58.38,443.29 58.82,441.61 59.43,439.98 59.63,438.26 60.52,436.71 60.68,434.98 61.29,433.36 61.51,431.65 62.31,430.08 62.65,428.39 62.66,426.63 63.19,424.94 64.22,423.43 64.49,421.67 65.62,420.45 66.11,418.85 66.87,417.42 68.35,416.71 69.58,415.06 70.73,416.28 71.95,415.69 73.29,414.63 74.56,414.32 75.61,415.39 76.97,414.87 78.27,413.76 79.45,413.2 80.79,414.57 82.04,414.27 83.24,412.43 84.52,410.84 85.65,409.16 87.1,411.62 88.38,410.56 89.54,410.71 90.86,409.71 92.04,409.87 93.68,410.98 91.85,411.33 90.01,411.33 92.55,410.66 94.95,412.09 97.46,410.44 99.98,411.32 102.47,409.95 104.49,408.73 105.26,410.08 106.23,411.27 108.79,412.43 111.21,413.84 113.77,414.45 114.94,413.42 116.28,412.54 118.77,413.72 119.95,412.81 121.2,411.93 123.78,412.92 126.24,414.51 128.77,415.45 130.02,414.66 131.24,413.73 133.75,414.99 136.21,416.33 137.5,415.37 138.76,414.51 140.09,413.61 141.21,412.45 143.78,413.69 146.21,415.07 147.42,416.1 148.78,416.96 151.27,417.94 152.55,417.2 153.8,416.32 154.93,415.28 156.3,414.57 158.79,413.07 160.02,412.16 161.24,411.24 163.77,411.92 164.93,410.44 167.45,412.08 168.81,412.79 169.98,413.78 171.18,412.43 172.55,411.3 174.99,412.52 177.48,411.21 179.98,410.44 182.52,409.54 183.64,408.37 184.97,407.46 187.49,408.76 188.67,409.74 189.99,410.52 192.48,409.46 194.98,410.08 197.51,410.44 198.64,409.47 199.97,408.71 202.5,407.49 205.04,408.67 207.48,407.94 209.99,406.98 212.5,406.26 214.97,404.93 217.49,404.47 219.97,405.57 222.47,406.34 225.01,405.03 226.3,404.06 227.51,403.01 229.99,402.43 232.52,402.91 233.64,401.97 235.05,401.32 237.52,400.04 238.63,401.14 240.06,401.93 242.49,402.53 243,402 245.49,402.55 246.8,403.44 247.94,404.58 250.52,404.92 253,404.51 255.51,404.05 257.97,405.07 260.52,403.79 262.99,404.54 265.49,405.06 268.04,403.82 270.49,402.47 273.02,401.28 275.48,402.08 276.64,403.6 278.01,404.99 280.51,404.56 281.87,402.96 283.01,401.26 285.51,400.02 286.78,400.96 287.99,402.01 290.49,403.02 293.02,403.67 294.86,404.18 296.73,404.6 298.6,404.9 300.49,405.05 302.36,404.33 304.26,403.79 305.52,402.94 306.74,402.06 308.04,401.31 309.44,400.51 311.04,400.18 312.47,399.41" fill="none" stroke="#AE66E4" stroke-width="1.85" stroke-linejoin="round" stroke-linecap="round"/>
<rect x="42.6" y="291.9" width="275.4" height="222.60000000000002" fill="none" stroke="#1a1a1a" stroke-width="1.3"/>
<line x1="47.5" y1="514.5" x2="47.5" y2="509.0" stroke="#1a1a1a" stroke-width="1.3"/>
<text class="b" x="47.5" y="527.5" transform="rotate(0.03 47.5 527.5)" font-size="9" text-anchor="middle">0</text>
<line x1="99.4" y1="514.5" x2="99.4" y2="509.0" stroke="#1a1a1a" stroke-width="1.3"/>
<text class="b" x="99.4" y="527.5" transform="rotate(0.03 99.4 527.5)" font-size="9" text-anchor="middle">100</text>
<line x1="151.3" y1="514.5" x2="151.3" y2="509.0" stroke="#1a1a1a" stroke-width="1.3"/>
<text class="b" x="151.3" y="527.5" transform="rotate(0.03 151.3 527.5)" font-size="9" text-anchor="middle">200</text>
<line x1="203.2" y1="514.5" x2="203.2" y2="509.0" stroke="#1a1a1a" stroke-width="1.3"/>
<text class="b" x="203.2" y="527.5" transform="rotate(0.03 203.2 527.5)" font-size="9" text-anchor="middle">300</text>
<line x1="255.1" y1="514.5" x2="255.1" y2="509.0" stroke="#1a1a1a" stroke-width="1.3"/>
<text class="b" x="255.1" y="527.5" transform="rotate(0.03 255.1 527.5)" font-size="9" text-anchor="middle">400</text>
<line x1="307.0" y1="514.5" x2="307.0" y2="509.0" stroke="#1a1a1a" stroke-width="1.3"/>
<text class="b" x="307.0" y="527.5" transform="rotate(0.03 307.0 527.5)" font-size="9" text-anchor="middle">500</text>
<line x1="73.45" y1="514.5" x2="73.45" y2="511.5" stroke="#1a1a1a" stroke-width="1.3"/>
<line x1="125.35" y1="514.5" x2="125.35" y2="511.5" stroke="#1a1a1a" stroke-width="1.3"/>
<line x1="177.25" y1="514.5" x2="177.25" y2="511.5" stroke="#1a1a1a" stroke-width="1.3"/>
<line x1="229.15" y1="514.5" x2="229.15" y2="511.5" stroke="#1a1a1a" stroke-width="1.3"/>
<line x1="281.05" y1="514.5" x2="281.05" y2="511.5" stroke="#1a1a1a" stroke-width="1.3"/>
<line x1="42.6" y1="510.0" x2="48.1" y2="510.0" stroke="#1a1a1a" stroke-width="1.3"/>
<text class="b" x="36" y="513.05" transform="rotate(0.03 36 513.05)" font-size="9" text-anchor="end">0</text>
<line x1="42.6" y1="466.4" x2="48.1" y2="466.4" stroke="#1a1a1a" stroke-width="1.3"/>
<text class="b" x="36" y="469.45" transform="rotate(0.03 36 469.45)" font-size="9" text-anchor="end">50</text>
<line x1="42.6" y1="422.8" x2="48.1" y2="422.8" stroke="#1a1a1a" stroke-width="1.3"/>
<text class="b" x="36" y="425.85" transform="rotate(0.03 36 425.85)" font-size="9" text-anchor="end">100</text>
<line x1="42.6" y1="379.2" x2="48.1" y2="379.2" stroke="#1a1a1a" stroke-width="1.3"/>
<text class="b" x="36" y="382.25" transform="rotate(0.03 36 382.25)" font-size="9" text-anchor="end">150</text>
<line x1="42.6" y1="335.6" x2="48.1" y2="335.6" stroke="#1a1a1a" stroke-width="1.3"/>
<text class="b" x="36" y="338.65" transform="rotate(0.03 36 338.65)" font-size="9" text-anchor="end">200</text>
<line x1="42.6" y1="292.0" x2="48.1" y2="292.0" stroke="#1a1a1a" stroke-width="1.3"/>
<text class="b" x="36" y="295.05" transform="rotate(0.03 36 295.05)" font-size="9" text-anchor="end">250</text>
<line x1="42.6" y1="488.2" x2="45.6" y2="488.2" stroke="#1a1a1a" stroke-width="1.3"/>
<line x1="42.6" y1="444.6" x2="45.6" y2="444.6" stroke="#1a1a1a" stroke-width="1.3"/>
<line x1="42.6" y1="401.0" x2="45.6" y2="401.0" stroke="#1a1a1a" stroke-width="1.3"/>
<line x1="42.6" y1="357.4" x2="45.6" y2="357.4" stroke="#1a1a1a" stroke-width="1.3"/>
<line x1="42.6" y1="313.8" x2="45.6" y2="313.8" stroke="#1a1a1a" stroke-width="1.3"/>
<text class="b" x="50.4" y="312.5" transform="rotate(0.03 50.4 312.5)" font-size="18.4">(b)</text>
<text class="b" x="179.8" y="543.5" transform="rotate(0.03 179.8 543.5)" font-size="11.4" text-anchor="middle">Displacement into surface/nm</text>
<text class="b" transform="translate(13.1,404) rotate(-90)" font-size="11.3" text-anchor="middle">Elastic modulus/GPa</text>
<line x1="210" y1="436.40" x2="236.8" y2="436.40" stroke="#AE66E4" stroke-width="1.6"/>
<text x="239.5" y="440.50" transform="rotate(0.03 239.5 440.50)" font-size="11.55">PN3h</text>
<line x1="210" y1="450.65" x2="236.8" y2="450.65" stroke="#3c3c3c" stroke-width="1.6"/>
<text x="239.5" y="454.75" transform="rotate(0.03 239.5 454.75)" font-size="11.55">PON3h-30Pa</text>
<line x1="210" y1="464.90" x2="236.8" y2="464.90" stroke="#F03535" stroke-width="1.6"/>
<text x="239.5" y="469.00" transform="rotate(0.03 239.5 469.00)" font-size="11.55">PON3h-35Pa</text>
<line x1="210" y1="479.15" x2="236.8" y2="479.15" stroke="#1464E6" stroke-width="1.6"/>
<text x="239.5" y="483.25" transform="rotate(0.03 239.5 483.25)" font-size="11.55">PON3h-40Pa</text>
<line x1="210" y1="493.40" x2="236.8" y2="493.40" stroke="#1FA354" stroke-width="1.6"/>
<text x="239.5" y="497.50" transform="rotate(0.03 239.5 497.50)" font-size="11.55">PON4h-40Pa</text>
</svg></body></html>
